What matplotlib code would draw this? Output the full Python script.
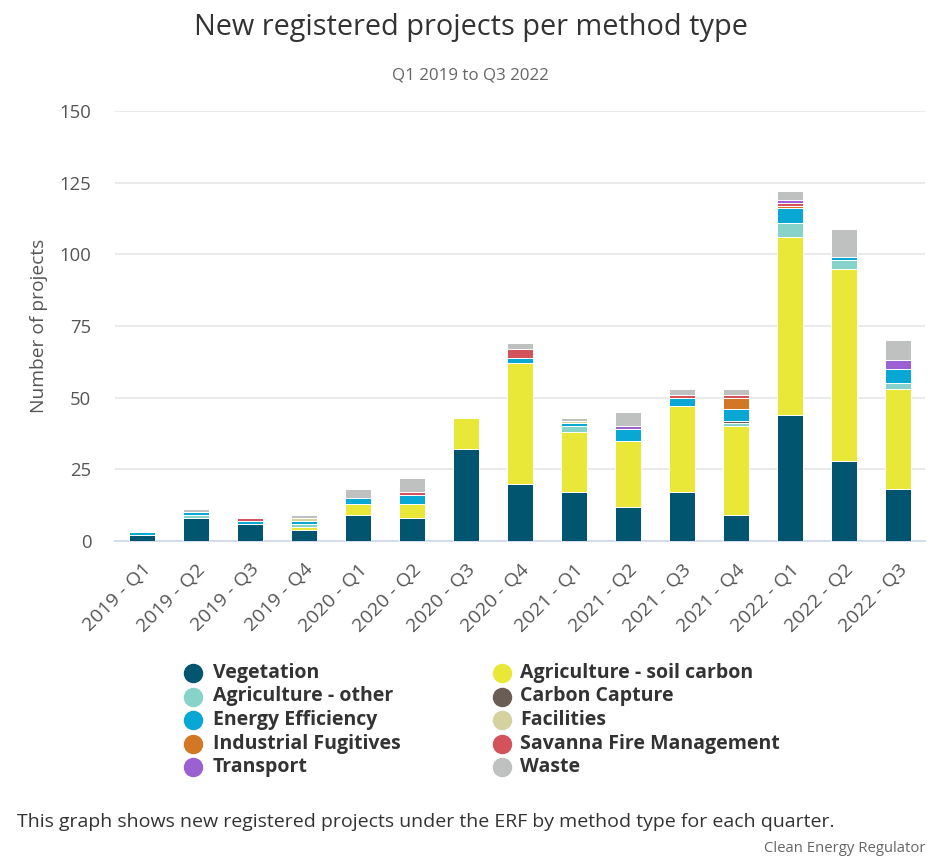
import matplotlib
matplotlib.use('Agg')
import matplotlib.pyplot as plt
import numpy as np
from matplotlib.lines import Line2D

plt.rcParams['font.family'] = ['Open Sans', 'DejaVu Sans']

quarters = ['2019 - Q1', '2019 - Q2', '2019 - Q3', '2019 - Q4',
            '2020 - Q1', '2020 - Q2', '2020 - Q3', '2020 - Q4',
            '2021 - Q1', '2021 - Q2', '2021 - Q3', '2021 - Q4',
            '2022 - Q1', '2022 - Q2', '2022 - Q3']

vegetation = [2, 8, 6, 4, 9, 8, 32, 20, 17, 12, 17, 9, 44, 28, 18]
soil_carbon = [0, 0, 0, 1, 4, 5, 11, 42, 21, 23, 30, 31, 62, 67, 35]
ag_other = [0, 1, 0, 1, 0, 0, 0, 0, 2, 0, 0, 1, 5, 3, 2]
carbon_capture = [0, 0, 0, 0, 0, 0, 0, 0, 0, 0, 0, 1, 0, 0, 0]
energy_eff = [1, 1, 1, 1, 2, 3, 0, 2, 1, 4, 3, 4, 5, 1, 5]
facilities = [0, 0, 0, 1, 0, 0, 0, 0, 1, 0, 0, 0, 0, 0, 0]
industrial = [0, 0, 0, 0, 0, 0, 0, 0, 0, 0, 0, 4, 1, 0, 0]
savanna = [0, 0, 1, 0, 0, 1, 0, 3, 0, 0, 1, 1, 1, 0, 0]
transport = [0, 0, 0, 0, 0, 0, 0, 0, 0, 1, 0, 0, 1, 0, 3]
waste = [0, 1, 0, 1, 3, 5, 0, 2, 1, 5, 2, 2, 3, 10, 7]

series = [
    ('Vegetation', vegetation, '#01556f'),
    ('Agriculture - soil carbon', soil_carbon, '#e9e839'),
    ('Agriculture - other', ag_other, '#87d2c9'),
    ('Carbon Capture', carbon_capture, '#6a5d55'),
    ('Energy Efficiency', energy_eff, '#08a7d4'),
    ('Facilities', facilities, '#d5d2a0'),
    ('Industrial Fugitives', industrial, '#d27726'),
    ('Savanna Fire Management', savanna, '#d4525b'),
    ('Transport', transport, '#9b60d2'),
    ('Waste', waste, '#bfc1c0'),
]

W, H = 941, 861
fig = plt.figure(figsize=(W / 100, H / 100), dpi=100)
ax = fig.add_axes([115 / W, 1 - 541 / H, 810 / W, 430 / H])

x = np.arange(len(quarters))
bottom = np.zeros(len(quarters))
for name, vals, col in series:
    vals = np.array(vals, dtype=float)
    ax.bar(x, vals, width=0.47, bottom=bottom, color=col, edgecolor='white',
           linewidth=0.7, label=name, zorder=3)
    bottom += vals

ax.set_xlim(-0.5, len(quarters) - 0.5)
ax.set_ylim(0, 150)
ax.set_yticks([0, 25, 50, 75, 100, 125, 150])
ax.yaxis.grid(True, color='#e6e6e6', linewidth=1.2, zorder=0)
for s in ['top', 'right', 'left']:
    ax.spines[s].set_visible(False)
ax.spines['bottom'].set_color('#ccd6eb')
ax.spines['bottom'].set_linewidth(1.2)
ax.tick_params(axis='y', length=0, labelsize=13.3, labelcolor='#555555', pad=17)
ax.tick_params(axis='x', length=0, labelsize=14, labelcolor='#555555', pad=14)
ax.set_xticks(x)
ax.set_xticklabels(quarters, rotation=45, ha='right', rotation_mode='anchor')
ax.set_ylabel('Number of projects', fontsize=13.8, color='#555555', labelpad=8)

fig.text(0.5, 1 - 28 / H, 'New registered projects per method type',
         ha='center', va='center', fontsize=20.8, color='#333333')
fig.text(0.5, 1 - 75 / H, 'Q1 2019 to Q3 2022', ha='center', va='center',
         fontsize=12.2, color='#666666')

# legend drawn by hand, row-major like the original
cols = [(193, 213), (502, 520)]
for i, (name, _, col) in enumerate(series):
    mx, tx = cols[i % 2]
    yy = 1 - (673 + 23.5 * (i // 2)) / H
    fig.add_artist(Line2D([mx / W], [yy], marker='o', markersize=13,
                          markerfacecolor=col, markeredgecolor=col,
                          transform=fig.transFigure))
    fig.text(tx / W, yy, name, ha='left', va='center', fontsize=14,
             fontweight='bold', color='#333333')

fig.text(17 / W, 1 - 822 / H,
         'This graph shows new registered projects under the ERF by method type for each quarter.',
         ha='left', va='center', fontsize=14, color='#333333')
fig.text(925 / W, 1 - 848 / H, 'Clean Energy Regulator', ha='right',
         va='center', fontsize=10.7, color='#666666')

plt.savefig('out.png', dpi=100)
plt.close()
